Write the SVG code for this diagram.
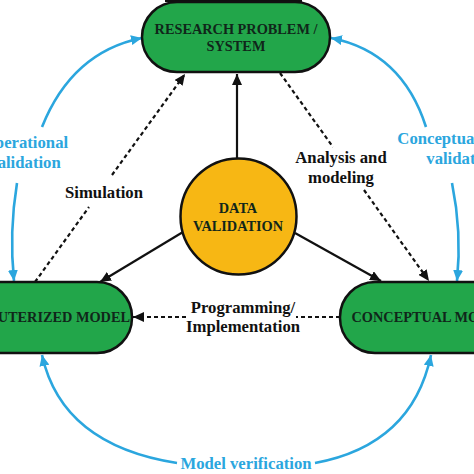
<svg xmlns="http://www.w3.org/2000/svg" width="474" height="474" viewBox="0 0 474 474">
<defs>
<style>
.node{fill:#22A64A;stroke:#111;stroke-width:2.5}
.circ{fill:#F7B714;stroke:#111;stroke-width:2.5}
.nt{font-family:"Liberation Serif","Times New Roman",serif;font-weight:bold;font-size:14.3px;fill:#10261a;text-anchor:middle}
.lb{font-family:"Liberation Serif","Times New Roman",serif;font-weight:bold;font-size:16.7px;fill:#111;text-anchor:middle}
.bl{font-family:"Liberation Serif","Times New Roman",serif;font-weight:bold;font-size:16.7px;fill:#2BA6DE;text-anchor:middle}
.solid{fill:none;stroke:#111;stroke-width:2.2}
.dash{fill:none;stroke:#111;stroke-width:2.2;stroke-dasharray:4 3}
.blue{fill:none;stroke:#2BA6DE;stroke-width:2.6}
</style>
<marker id="ab" markerUnits="userSpaceOnUse" markerWidth="12" markerHeight="10" refX="11" refY="5" orient="auto"><path d="M0,0 L11,5 L0,10 z" fill="#111"/></marker>
<marker id="au" markerUnits="userSpaceOnUse" markerWidth="12" markerHeight="10" refX="11" refY="5" orient="auto"><path d="M0,0 L11,5 L0,10 z" fill="#2BA6DE"/></marker>
</defs>
<rect width="474" height="474" fill="#fff"/>
<path d="M165,0 H302 V2 Q235,4 165,2 z" fill="#111"/>
<g id="connectors">
<path class="solid" d="M237,158 L237,74" marker-end="url(#ab)"/>
<path class="solid" d="M183,232 L100,282" marker-end="url(#ab)"/>
<path class="solid" d="M295,233 L381,281" marker-end="url(#ab)"/>
<path class="dash" d="M35,282 L89,207"/>
<path class="dash" d="M112,175 L185,74" marker-end="url(#ab)"/>
<path class="dash" d="M280,73 L333,147"/>
<path class="dash" d="M364,190 L429,281" marker-end="url(#ab)"/>
<path class="dash" d="M340,317 L296,317"/>
<path class="dash" d="M186,317 L133,317" marker-end="url(#ab)"/>
<path class="blue" d="M42,127 Q72,52 142,38" marker-end="url(#au)"/>
<path class="blue" d="M426,127 Q402,52 331,38" marker-end="url(#au)"/>
<path class="blue" d="M17,183 Q9,232 14,281" marker-end="url(#au)"/>
<path class="blue" d="M452,183 Q462,232 457,281" marker-end="url(#au)"/>
<path class="blue" d="M177,463 Q62,445 42,355" marker-end="url(#au)"/>
<path class="blue" d="M315,463 Q412,445 431,355" marker-end="url(#au)"/>
<text class="lb" x="104" y="198">Simulation</text>
<text class="lb" x="341" y="163">Analysis and</text>
<text class="lb" x="341" y="183">modeling</text>
<text class="lb" x="243" y="313">Programming/</text>
<text class="lb" x="243" y="332">Implementation</text>
<text class="bl" x="25" y="148">Operational</text>
<text class="bl" x="25" y="168">validation</text>
<text class="bl" x="462" y="144">Conceptual model</text>
<text class="bl" x="462" y="164">validation</text>
<text class="bl" x="246" y="469">Model verification</text>
</g>
<g id="research">
<rect class="node" x="142" y="2" width="188" height="70" rx="35"/>
<text class="nt" x="236" y="34">RESEARCH PROBLEM /</text>
<text class="nt" x="236" y="51">SYSTEM</text>
</g>
<g id="data">
<circle class="circ" cx="238.5" cy="216.5" r="58"/>
<text class="nt" x="238" y="213">DATA</text>
<text class="nt" x="238" y="231">VALIDATION</text>
</g>
<g id="computerized">
<rect class="node" x="-56" y="282" width="188" height="71" rx="35"/>
<text class="nt" x="42" y="322">COMPUTERIZED MODEL</text>
</g>
<g id="conceptual">
<rect class="node" x="340" y="282" width="188" height="71" rx="35"/>
<text class="nt" x="430" y="322">CONCEPTUAL MODEL</text>
</g>
</svg>
